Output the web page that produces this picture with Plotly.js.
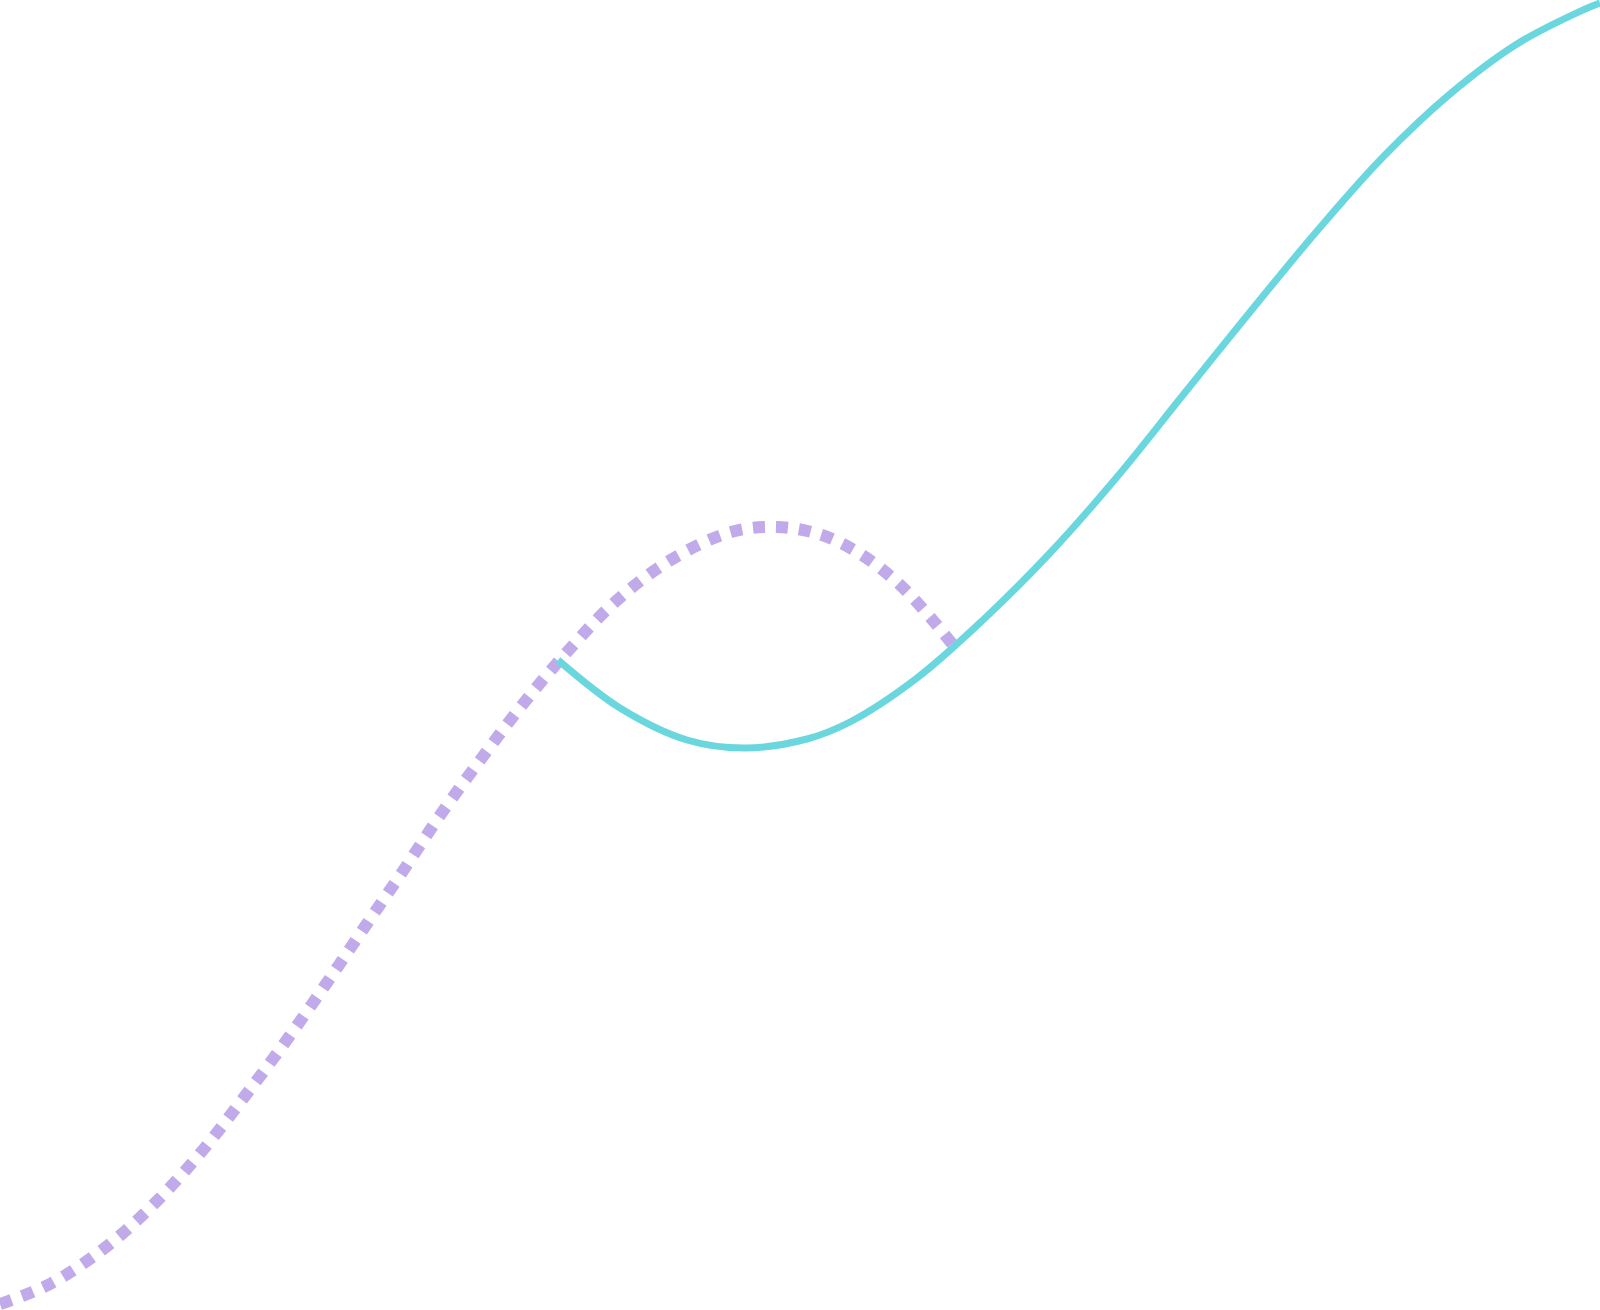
<!DOCTYPE html>
<html>
<head>
<meta charset="utf-8">
<script src="https://cdn.plot.ly/plotly-3.0.1.min.js"></script>
<style>
  html, body { margin: 0; padding: 0; background: #fff; }
  #plot { width: 1600px; height: 1310px; }
</style>
</head>
<body>
<div id="plot"></div>
<script>
//Dotted purple curve
var purpleX = [0, 50, 106, 157, 203, 245, 286, 326, 364, 403, 441, 481, 523, 567, 615, 669, 731, 777, 822, 862, 898, 930, 957];
var purpleY = [1304, 1284, 1247, 1201, 1150, 1096, 1041, 984, 928, 871, 814, 759, 704, 652, 602, 561, 532, 527, 535, 555, 583, 617, 650];

//Solid cyan curve
var cyanX = [558, 620, 687, 745, 807, 850, 917, 983, 1050, 1117, 1183, 1250, 1317, 1383, 1450, 1517, 1583, 1600];
var cyanY = [660, 708, 740, 748, 739, 722, 678, 620, 553, 477, 395, 312, 231, 157, 94, 44, 10, 3];

//Builds the plot once the page is loaded
function initializePlot() {
    var purple = {
        x: purpleX,
        y: purpleY,
        type: 'scatter',
        mode: 'lines',
        line: {
            color: '#c0aaea',
            width: 12,
            dash: '12px,11px',
            shape: 'spline',
            smoothing: 1
        },
        hoverinfo: 'skip'
    };

    var cyan = {
        x: cyanX,
        y: cyanY,
        type: 'scatter',
        mode: 'lines',
        line: {
            color: '#6ad7df',
            width: 7,
            shape: 'spline',
            smoothing: 1
        },
        hoverinfo: 'skip'
    };

    var layout = {
        width: 1600,
        height: 1310,
        showlegend: false,
        margin: { l: 0, r: 0, t: 0, b: 0 },
        paper_bgcolor: '#fff',
        plot_bgcolor: '#fff',
        xaxis: { range: [0, 1600], visible: false, fixedrange: true },
        yaxis: { range: [1310, 0], visible: false, fixedrange: true },
        hovermode: false
    };

    Plotly.newPlot('plot', [purple, cyan], layout, { staticPlot: true });
}

document.addEventListener("DOMContentLoaded", function() {
    initializePlot();
});
</script>
</body>
</html>
